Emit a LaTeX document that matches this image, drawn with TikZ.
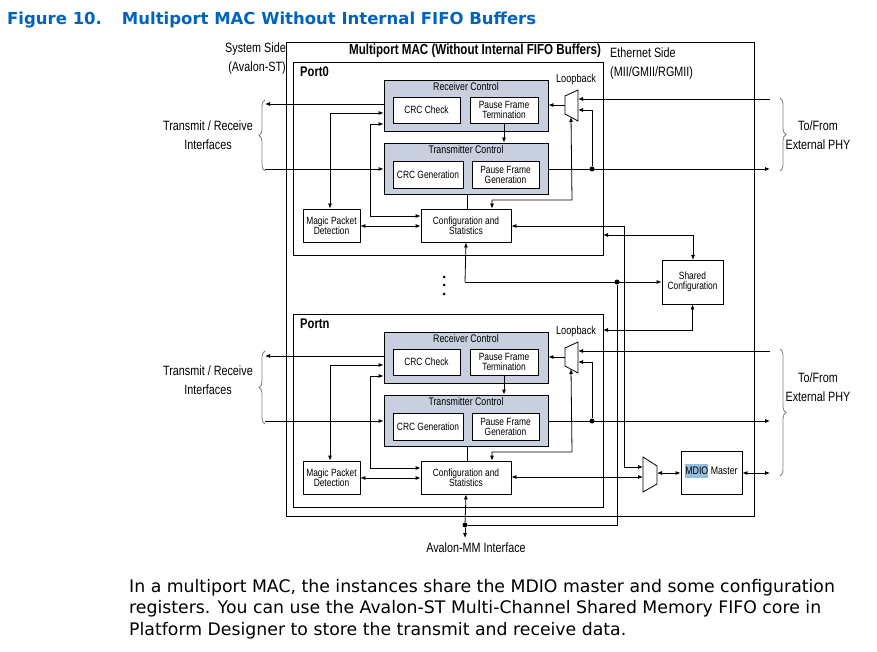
\documentclass[tikz,border=0pt]{standalone}
\usepackage{fontspec}
\setmainfont{DejaVu Sans}
\newfontfamily\cf{Liberation Sans}[FakeStretch=0.8]
\usetikzlibrary{arrows.meta,decorations.pathreplacing}
\definecolor{ttl}{RGB}{0,100,190}
\definecolor{shd}{RGB}{200,207,222}
\definecolor{hl}{RGB}{150,190,225}
\begin{document}
\begin{tikzpicture}[x=1pt,y=-1pt,
 every node/.style={inner sep=0pt,font=\cf\fontsize{13.5}{19}\selectfont},
 box/.style={draw,line width=0.8pt},
 sbox/.style={draw,line width=0.8pt,fill=white,font=\cf\fontsize{10.5}{10}\selectfont,align=center},
 ctl/.style={draw,line width=0.8pt,fill=shd},
 ln/.style={line width=0.8pt,-{Latex[length=5pt,width=4pt]}},
 bl/.style={line width=0.8pt,{Latex[length=5pt,width=4pt]}-{Latex[length=5pt,width=4pt]}},
 pl/.style={line width=0.8pt},
 dot/.style={circle,fill,minimum size=5pt},
 brc/.style={draw=gray,line width=0.8pt,decorate,decoration={brace,amplitude=6pt}}]
\useasboundingbox (0,0) rectangle (877,652);
\node[anchor=west,text=ttl,font=\bfseries\fontsize{16.5}{18}\selectfont] (ttl) at (7,20) {Figure 10.\hspace{20pt}Multiport MAC Without Internal FIFO Buffers};
\draw[box] (286,42) rectangle (754,516);
\node[font=\cf\bfseries\fontsize{14.5}{15}\selectfont] (mt) at (475,51) {Multiport MAC (Without Internal FIFO Buffers)};
\node[align=right,anchor=east] (ss) at (286,59) {System Side\\(Avalon-ST)};
\node[align=left,anchor=west] (es) at (610,64) {Ethernet Side\\(MII/GMII/RGMII)};
\node[align=center] (tr0) at (208,135) {Transmit / Receive\\Interfaces};
\node[align=center] (tr1) at (208,380) {Transmit / Receive\\Interfaces};
\node[align=center] (ph0) at (818,135) {To/From\\External PHY};
\node[align=center] (ph1) at (818,387) {To/From\\External PHY};
\draw[brc] (265,171) -- (265,100);
\draw[brc] (265,424) -- (265,351);
\draw[brc] (780,98) -- (780,171);
\draw[brc] (780,349) -- (780,476);
\foreach \n/\o/\pn in {0/0/Port0,1/252/Portn}{
 \begin{scope}[yshift=-\o pt]
 \draw[box] (293,62) rectangle (603,255);
 \node[anchor=west,font=\cf\bfseries\fontsize{14}{14}\selectfont] (pn\n) at (300,72) {\pn};
 \node[ctl,minimum width=164pt,minimum height=51pt] (rx\n) at (466,105.5) {};
 \node[anchor=north] (rxl\n) at (466,82) {\fontsize{11}{11}\selectfont Receiver Control};
 \node[sbox,minimum width=67pt,minimum height=26pt] (crc\n) at (426.5,110) {CRC Check};
 \node[sbox,minimum width=68pt,minimum height=26pt] (pft\n) at (504,110) {Pause Frame\\Termination};
 \node[ctl,minimum width=164pt,minimum height=51pt] (tx\n) at (466,168.5) {};
 \node[anchor=north] (txl\n) at (466,145) {\fontsize{11}{11}\selectfont Transmitter Control};
 \node[sbox,minimum width=70pt,minimum height=27pt] (crg\n) at (428,174.5) {CRC Generation};
 \node[sbox,minimum width=67pt,minimum height=27pt] (pfg\n) at (505.5,174.5) {Pause Frame\\Generation};
 \node[sbox,minimum width=90pt,minimum height=33pt] (cfg\n) at (466,225.5) {Configuration and\\Statistics};
 \node[sbox,minimum width=57pt,minimum height=33pt] (mpd\n) at (331.5,225.5) {Magic Packet\\Detection};
 \draw[pl,fill=white] (565,96) -- (578,90) -- (578,121) -- (565,114) -- cycle;
 \coordinate (mx\n) at (571,117);
 \node (lb\n) at (576,80) {\fontsize{11.5}{11}\selectfont Loopback};
 \draw[ln] (rx\n.west|-0,104) -- (265,104);
 \draw[ln] (265,169) -- (tx\n.west|-0,169);
 \draw[bl] (mpd\n.north-|330,0) |- (rx\n.west|-0,113);
 \draw[bl] (cfg\n.west|-0,216) -| (370,124) -- (rx\n.west|-0,124);
 \draw[bl] (mpd\n.east|-0,226) -- (cfg\n.west|-0,226);
 \draw[ln] (pft\n.south) -- (tx\n.north-|pft\n.south);
 \draw[pl] (tx\n.south-|467,0) -- (cfg\n.north-|467,0);
 \draw[ln] (tx\n.east|-0,169) -- (770,169);
 \node[dot] (d\n) at (592,169) {};
 \draw[ln] (d\n) |- (578,110);
 \draw[ln] (770,99) -- (578,99);
 \draw[ln] (565,105) -- (rx\n.east|-0,105);
 \draw[bl] (mx\n) -- (572,200) -| (cfg\n.north-|492,0);
 \end{scope}}
\draw[ln] (624,467) -- (624,226) -- (cfg0.east|-0,226);
\draw[bl] (603,235) -| (693,260);
\node[box,minimum width=61pt,minimum height=44pt,align=center,font=\cf\fontsize{10.5}{10}\selectfont] (sc) at (692.5,282) {Shared\\Configuration};
\draw[bl] (sc.south) |- (603,330);
\draw[ln] (465,282) -- (sc.west|-0,282);
\draw[ln] (465,282) -- (cfg0.south);
\node[dot] (d2) at (617,282) {};
\node[dot] (d3) at (465,525) {};
\draw[pl] (d2) -- (617,525) -- (d3);
\foreach \y in {277,285,294} \fill (444,\y) circle (1.5pt);
\draw[pl,fill=white] (643,457) -- (657,466) -- (657,484) -- (643,492) -- cycle;
\draw[ln] (624,467) -- (643,467);
\draw[bl] (cfg1.east|-0,477) -- (643,477);
\node[box,minimum width=61pt,minimum height=43pt] (md) at (711.5,472.5) {};
\node (mdt) at (711.5,471) {\fontsize{11}{11}\selectfont\colorbox{hl}{\hspace{-3pt}MDIO\hspace{-3pt}} Master};
\draw[bl] (657,473) -- (md.west|-0,473);
\draw[bl] (md.east|-0,473) -- (770,473);
\draw[ln] (d3) -- (cfg1.south);
\draw[ln] (d3) -- (465,538);
\node (av) at (476,548) {Avalon-MM Interface};
\node[anchor=north west,align=left,font=\fontsize{17.3}{21.5}\selectfont] (para) at (129,579) {In a multiport MAC, the instances share the MDIO master and some configuration\\registers. You can use the Avalon-ST Multi-Channel Shared Memory FIFO core in\\Platform Designer to store the transmit and receive data.};
\end{tikzpicture}
\end{document}
